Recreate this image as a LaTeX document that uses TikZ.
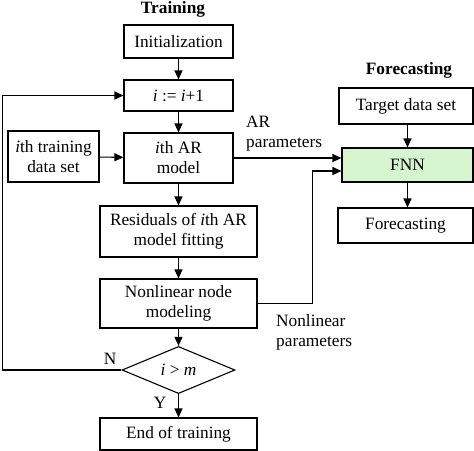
\documentclass[tikz,border=0pt]{standalone}
\usepackage{fontspec}
\setmainfont{Liberation Serif}
\usetikzlibrary{shapes.geometric,arrows.meta}

\begin{document}
\begin{tikzpicture}[x=1pt,y=-1pt,
    box/.style={draw,line width=1.1pt,align=center,inner sep=1pt,
        font=\fontsize{17.3}{20}\selectfont},
    decision/.style={draw,diamond,line width=1.1pt,inner sep=0pt,
        minimum width=113pt,minimum height=47pt,font=\fontsize{17.3}{20}\selectfont},
    lbl/.style={align=left,inner sep=0pt,font=\fontsize{17.3}{20}\selectfont},
    flow/.style={line width=1.1pt,-{Triangle[length=9pt,width=8pt]}}]
\useasboundingbox (0,0) rectangle (474,450);
% titles
\node[font=\fontsize{17.3}{20}\selectfont\bfseries] (ttrain) at (173,9) {Training};
\node[font=\fontsize{17.3}{20}\selectfont\bfseries] (tfore) at (409,70) {Forecasting};
% training column
\node[box,minimum width=109pt,minimum height=33pt] (init) at (178.5,41.5) {Initialization};
\node[box,minimum width=109pt,minimum height=31pt] (inc) at (178.5,95.5) {\textit{i} := \textit{i}+1};
\node[box,minimum width=109pt,minimum height=50pt] (ar) at (178.5,158) {\textit{i}th AR\\model};
\node[box,minimum width=91pt,minimum height=51pt] (train) at (53.5,156.5) {\textit{i}th training\\data set};
\node[box,minimum width=157pt,minimum height=51pt] (resid) at (178.5,231.5) {Residuals of \textit{i}th AR\\model fitting};
\node[box,minimum width=157pt,minimum height=49pt] (nonlin) at (178.5,303.5) {Nonlinear node\\modeling};
\node[decision] (dec) at (178.5,370) {\textit{i} > \textit{m}};
\node[box,minimum width=157pt,minimum height=32pt] (endt) at (178.5,434) {End of training};
% forecasting column
\node[box,minimum width=134pt,minimum height=36pt] (target) at (406,106) {Target data set};
\node[box,fill={rgb,255:red,212;green,245;blue,206},minimum width=131pt,minimum height=34pt] (fnn) at (407.5,165) {FNN};
\node[box,minimum width=135pt,minimum height=35pt] (fore) at (405.5,225.5) {Forecasting};
% connectors
\draw[flow] (init) -- (inc);
\draw[flow] (inc) -- (ar);
\draw[flow] (ar) -- (resid);
\draw[flow] (resid) -- (nonlin);
\draw[flow] (nonlin) -- (dec);
\draw[flow] (dec) -- (endt);
\node[lbl] (ylbl) at (160,403) {Y};
\draw[flow] (train) -- (ar);
\draw[flow] (dec.west) -- ++(-119,0) |- (inc.west);
\node[lbl] (nlbl) at (110,359) {N};
\draw[flow] (target.south -| fnn.north) -- (fnn.north);
\draw[flow] (fnn.south) -- (fnn.south |- fore.north);
\draw[flow] (ar.east) -- (ar.east -| fnn.west);
\draw[flow] (nonlin.east) -- ++(55,0) |- ([yshift=-6pt]fnn.west);
\node[lbl,anchor=south west] (arlbl) at (246,151) {AR\\parameters};
\node[lbl,anchor=north west] (nllbl) at (276,314) {Nonlinear\\parameters};
\end{tikzpicture}
\end{document}
